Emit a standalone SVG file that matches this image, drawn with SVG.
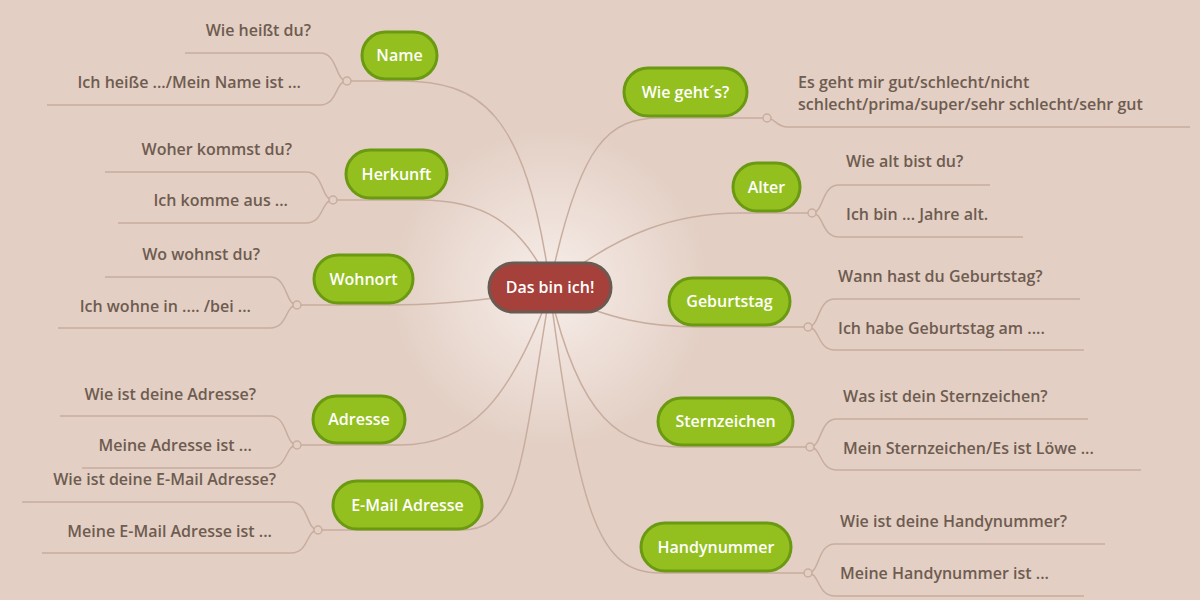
<svg xmlns="http://www.w3.org/2000/svg" width="1200" height="600" viewBox="0 0 1200 600">
<defs>
<radialGradient id="glow" cx="550" cy="288" r="160" gradientUnits="userSpaceOnUse">
<stop offset="0" stop-color="#f7eeea"/><stop offset="1" stop-color="#e3cfc4"/>
</radialGradient>
<style>
.ln{fill:none;stroke:#c8ad9f;stroke-width:1.5}
.dot{fill:#e3cfc4;stroke:#c8ad9f;stroke-width:1.5}
.pill{fill:#93c01f;stroke:#6b9a12;stroke-width:3}
.nt{font-family:"Open Sans",sans-serif;font-weight:600;font-size:16px;fill:#fff;text-anchor:middle}
.lt{font-family:"Open Sans",sans-serif;font-weight:600;font-size:16px;fill:#6e5c50}
</style>
</defs>
<rect width="1200" height="600" fill="#e3cfc4"/>
<rect width="1200" height="600" fill="url(#glow)"/>
<g id="connectors">
<path class="ln" d="M550,285 C525,110 480,81 400,81 L347,81"/>
<path class="ln" d="M550,285 C520,220 480,200 420,200 L333,200"/>
<path class="ln" d="M550,290 C490,300 440,305 390,305 L297,305"/>
<path class="ln" d="M550,292 C510,400 470,445 400,445 L297,445"/>
<path class="ln" d="M550,292 C520,470 520,530 460,530 L318,530"/>
<path class="ln" d="M550,285 C580,140 610,118 660,118 L767,118"/>
<path class="ln" d="M550,288 C620,230 680,213 740,213 L812,213"/>
<path class="ln" d="M550,292 C610,320 650,327 700,327 L808,327"/>
<path class="ln" d="M550,292 C580,420 620,447 680,447 L810,447"/>
<path class="ln" d="M550,292 C580,520 600,573 660,573 L808,573"/>
<path class="ln" d="M347,81 C335,81 338,53 320,53 L185,53 M347,81 C335,81 338,105 320,105 L47,105"/>
<path class="ln" d="M333,200 C321,200 324,172 306,172 L105,172 M333,200 C321,200 324,223 306,223 L118,223"/>
<path class="ln" d="M297,305 C285,305 288,277 270,277 L105,277 M297,305 C285,305 288,328 270,328 L58,328"/>
<path class="ln" d="M297,445 C285,445 288,416 270,416 L60,416 M297,445 C285,445 288,468 270,468 L82,468"/>
<path class="ln" d="M318,530 C306,530 309,502 291,502 L22,502 M318,530 C306,530 309,553 291,553 L42,553"/>
<path class="ln" d="M767,118 C775,118 776,127 788,127 L1190,127"/>
<path class="ln" d="M812,213 C824,213 821,185 839,185 L990,185 M812,213 C824,213 821,237 839,237 L1023,237"/>
<path class="ln" d="M808,327 C820,327 817,299 835,299 L1080,299 M808,327 C820,327 817,350 835,350 L1084,350"/>
<path class="ln" d="M810,447 C822,447 819,419 837,419 L1088,419 M810,447 C822,447 819,470 837,470 L1141,470"/>
<path class="ln" d="M808,573 C820,573 817,544 835,544 L1105,544 M808,573 C820,573 817,596 835,596 L1084,596"/>
<circle class="dot" cx="347" cy="81" r="4"/><circle class="dot" cx="333" cy="200" r="4"/>
<circle class="dot" cx="297" cy="305" r="4"/><circle class="dot" cx="297" cy="445" r="4"/>
<circle class="dot" cx="318" cy="530" r="4"/><circle class="dot" cx="767" cy="118" r="4"/>
<circle class="dot" cx="812" cy="213" r="4"/><circle class="dot" cx="808" cy="327" r="4"/>
<circle class="dot" cx="810" cy="447" r="4"/><circle class="dot" cx="808" cy="573" r="4"/>
</g>
<g id="center"><rect x="489" y="263" width="122" height="49" rx="24.5" fill="#a5403a" stroke="#6b5a52" stroke-width="3"/><text class="nt" x="550" y="293" font-size="15">Das bin ich!</text></g>
<g id="name"><rect class="pill" x="362" y="32" width="75" height="47" rx="23.5"/><text class="nt" x="399.5" y="61">Name</text></g>
<g id="herkunft"><rect class="pill" x="346" y="150" width="101" height="48" rx="24"/><text class="nt" x="396.5" y="180">Herkunft</text></g>
<g id="wohnort"><rect class="pill" x="314" y="255" width="99" height="48" rx="24"/><text class="nt" x="363.5" y="285">Wohnort</text></g>
<g id="adresse"><rect class="pill" x="313" y="396" width="92" height="47" rx="23.5"/><text class="nt" x="359" y="425">Adresse</text></g>
<g id="email"><rect class="pill" x="333" y="481" width="149" height="48" rx="24"/><text class="nt" x="407.5" y="511">E-Mail Adresse</text></g>
<g id="wiegehts"><rect class="pill" x="624" y="68" width="123" height="48" rx="24"/><text class="nt" x="685.5" y="98">Wie geht´s?</text></g>
<g id="alter"><rect class="pill" x="733" y="163" width="67" height="48" rx="24"/><text class="nt" x="766.5" y="193">Alter</text></g>
<g id="geburtstag"><rect class="pill" x="669" y="278" width="121" height="47" rx="23.5"/><text class="nt" x="729.5" y="307">Geburtstag</text></g>
<g id="sternzeichen"><rect class="pill" x="658" y="398" width="135" height="47" rx="23.5"/><text class="nt" x="725.5" y="427">Sternzeichen</text></g>
<g id="handynummer"><rect class="pill" x="641" y="523" width="150" height="48" rx="24"/><text class="nt" x="716" y="553">Handynummer</text></g>
<g id="leaves">
<text class="lt" x="311" y="36" text-anchor="end">Wie heißt du?</text>
<text class="lt" x="301" y="88" text-anchor="end">Ich heiße .../Mein Name ist ...</text>
<text class="lt" x="292" y="155" text-anchor="end">Woher kommst du?</text>
<text class="lt" x="288" y="206" text-anchor="end">Ich komme aus ...</text>
<text class="lt" x="260" y="260" text-anchor="end">Wo wohnst du?</text>
<text class="lt" x="251" y="312" text-anchor="end">Ich wohne in .... /bei ...</text>
<text class="lt" x="256" y="400" text-anchor="end">Wie ist deine Adresse?</text>
<text class="lt" x="252" y="451" text-anchor="end">Meine Adresse ist ...</text>
<text class="lt" x="276" y="485" text-anchor="end">Wie ist deine E-Mail Adresse?</text>
<text class="lt" x="272" y="537" text-anchor="end">Meine E-Mail Adresse ist ...</text>
<text class="lt" x="798" y="88">Es geht mir gut/schlecht/nicht</text>
<text class="lt" x="798" y="110">schlecht/prima/super/sehr schlecht/sehr gut</text>
<text class="lt" x="846" y="167">Wie alt bist du?</text>
<text class="lt" x="846" y="220">Ich bin ... Jahre alt.</text>
<text class="lt" x="838" y="282">Wann hast du Geburtstag?</text>
<text class="lt" x="838" y="334">Ich habe Geburtstag am ....</text>
<text class="lt" x="843" y="402">Was ist dein Sternzeichen?</text>
<text class="lt" x="843" y="454">Mein Sternzeichen/Es ist Löwe ...</text>
<text class="lt" x="840" y="527">Wie ist deine Handynummer?</text>
<text class="lt" x="840" y="579">Meine Handynummer ist ...</text>
</g>
</svg>
